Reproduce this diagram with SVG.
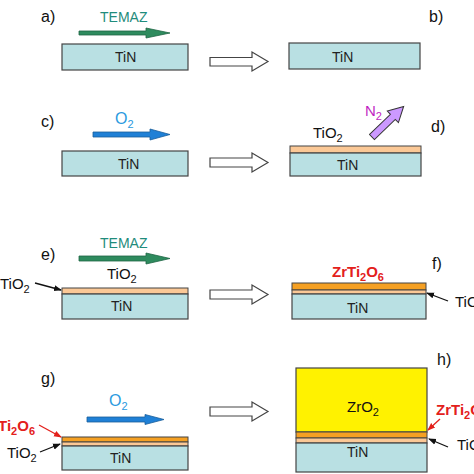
<svg xmlns="http://www.w3.org/2000/svg" width="474" height="474" viewBox="0 0 474 474">
<style>
text{font-family:"Liberation Sans",Arial,sans-serif;}
.lbl{font-size:16px;fill:#111;}
.tin{fill:#b9e0e3;stroke:#444;stroke-width:1.2;}
.tio{fill:#fbc896;stroke:#444;stroke-width:1;}
.zti{fill:#f5a023;stroke:#444;stroke-width:1;}
.zro{fill:#fff200;stroke:#444;stroke-width:1.2;}
.t14{font-size:14px;fill:#222;}
.t15{font-size:15px;fill:#111;}
.temaz{font-size:14px;fill:#1f8c7c;}
.o2{font-size:16px;fill:#2b9ae0;}
.red{font-size:15px;font-weight:bold;fill:#e3201b;}
.sub{font-size:11px;}
.hollow{fill:#fff;stroke:#444;stroke-width:1.2;}
.green{fill:#2e8b5e;stroke:#1e6644;stroke-width:0.8;}
.blue{fill:#1f80d6;stroke:#1a5e9a;stroke-width:0.8;}
.ptr{stroke:#111;stroke-width:1.3;fill:none;marker-end:url(#hb);}
.ptrr{stroke:#e3201b;stroke-width:1.3;fill:none;marker-end:url(#hr);}
</style>
<defs>
<marker id="hb" markerWidth="8" markerHeight="8" refX="7" refY="4" orient="auto" markerUnits="userSpaceOnUse"><path d="M0,1 L8,4 L0,7 Z" fill="#111"/></marker>
<marker id="hr" markerWidth="8" markerHeight="8" refX="7" refY="4" orient="auto" markerUnits="userSpaceOnUse"><path d="M0,1 L8,4 L0,7 Z" fill="#e3201b"/></marker>
</defs>
<rect width="474" height="474" fill="#fff"/>

<g id="panel-a">
<text class="lbl" x="41" y="22">a)</text>
<text class="temaz" x="100" y="22">TEMAZ</text>
<path class="green" d="M79,31 H146 V28 L170,33 L146,38 V35 H79 Z"/>
<rect class="tin" x="62" y="44" width="126" height="26"/>
<text class="t14" x="115" y="62">TiN</text>
</g>

<g id="panel-b">
<text class="lbl" x="429" y="22">b)</text>
<rect class="tin" x="289" y="43" width="131" height="26"/>
<text class="t14" x="332" y="62">TiN</text>
</g>

<g id="panel-c">
<text class="lbl" x="41" y="127">c)</text>
<text class="o2" x="115" y="124">O<tspan class="sub" dy="4">2</tspan></text>
<path class="blue" d="M93,132 H150 V129 L170,134.5 L150,140 V137 H93 Z"/>
<rect class="tin" x="62" y="151" width="126" height="25"/>
<text class="t14" x="118" y="169">TiN</text>
</g>

<g id="panel-d">
<text class="lbl" x="431" y="132">d)</text>
<text class="t15" x="313" y="138">TiO<tspan class="sub" dy="4">2</tspan></text>
<text x="365" y="116" style="font-size:15px;fill:#c21fc2">N<tspan class="sub" dy="4">2</tspan></text>
<path transform="translate(372,137) rotate(-44)" d="M0,-3.5 H29 V-8 L44,0 L29,8 V3.5 H0 Z" fill="#cc99ff" stroke="#333" stroke-width="1"/>
<rect class="tio" x="290" y="146" width="131" height="7"/>
<rect class="tin" x="290" y="153" width="131" height="23"/>
<text class="t14" x="337" y="170">TiN</text>
</g>

<g id="panel-e">
<text class="lbl" x="41" y="260">e)</text>
<text class="temaz" x="100" y="248">TEMAZ</text>
<path class="green" d="M79,256 H146 V253 L170,258.5 L146,264 V261 H79 Z"/>
<text class="t15" x="107" y="279">TiO<tspan class="sub" dy="4">2</tspan></text>
<text class="t15" x="0" y="289">TiO<tspan class="sub" dy="4">2</tspan></text>
<rect class="tio" x="62" y="288" width="126" height="6"/>
<rect class="tin" x="62" y="294" width="126" height="25"/>
<text class="t14" x="111" y="311">TiN</text>
</g>

<g id="panel-f">
<text class="lbl" x="432" y="269">f)</text>
<text class="red" x="332" y="277">ZrTi<tspan class="sub" dy="4">2</tspan><tspan dy="-4">O</tspan><tspan class="sub" dy="4">6</tspan></text>
<rect class="zti" x="292" y="283" width="134" height="7"/>
<rect class="tio" x="292" y="290" width="134" height="4"/>
<rect class="tin" x="292" y="294" width="134" height="25"/>
<text class="t14" x="347" y="313">TiN</text>
<text class="t15" x="455" y="307">TiO<tspan class="sub" dy="4">2</tspan></text>
</g>

<g id="panel-g">
<text class="lbl" x="41" y="384">g)</text>
<text class="o2" x="109" y="406">O<tspan class="sub" dy="4">2</tspan></text>
<path class="blue" d="M87,417 H145 V414.5 L164,419.5 L145,424.5 V422 H87 Z"/>
<text class="red" x="35" y="431" text-anchor="end">ZrTi<tspan class="sub" dy="4">2</tspan><tspan dy="-4">O</tspan><tspan class="sub" dy="4">6</tspan></text>
<text class="t15" x="7" y="458">TiO<tspan class="sub" dy="4">2</tspan></text>
<rect class="zti" x="62" y="437" width="126" height="5"/>
<rect class="tio" x="62" y="442" width="126" height="4"/>
<rect class="tin" x="62" y="446" width="126" height="24"/>
<text class="t14" x="110" y="463">TiN</text>
</g>

<g id="panel-h">
<text class="lbl" x="437" y="365">h)</text>
<rect class="zro" x="296" y="368" width="131" height="64"/>
<text class="t15" x="347" y="412">ZrO<tspan class="sub" dy="4">2</tspan></text>
<rect class="zti" x="296" y="432" width="131" height="6"/>
<rect class="tio" x="296" y="438" width="131" height="5"/>
<rect class="tin" x="296" y="443" width="131" height="29"/>
<text class="t14" x="347" y="457">TiN</text>
<text class="red" x="436" y="415">ZrTi<tspan class="sub" dy="4">2</tspan><tspan dy="-4">O</tspan><tspan class="sub" dy="4">6</tspan></text>
<text class="t15" x="457" y="450">TiO<tspan class="sub" dy="4">2</tspan></text>
</g>

<g id="connectors">
<path class="hollow" d="M210,57.5 H252 V52 L268,61.5 L252,71 V66 H210 Z"/>
<path class="hollow" d="M210,158 H252 V153 L268,162.5 L252,172 V167 H210 Z"/>
<path class="hollow" d="M210,290 H252 V285 L268,294.5 L252,304 V299 H210 Z"/>
<path class="hollow" d="M210,407 H252 V402 L268,411.5 L252,421 V416 H210 Z"/>
<line class="ptr" x1="35" y1="283" x2="61" y2="290"/>
<line class="ptr" x1="448" y1="301" x2="427" y2="293"/>
<line class="ptrr" x1="39" y1="425" x2="61" y2="437"/>
<line class="ptr" x1="40" y1="452" x2="60" y2="444"/>
<line class="ptrr" x1="440" y1="419" x2="428" y2="430"/>
<line class="ptr" x1="448" y1="447" x2="429" y2="439"/>
</g>
</svg>
